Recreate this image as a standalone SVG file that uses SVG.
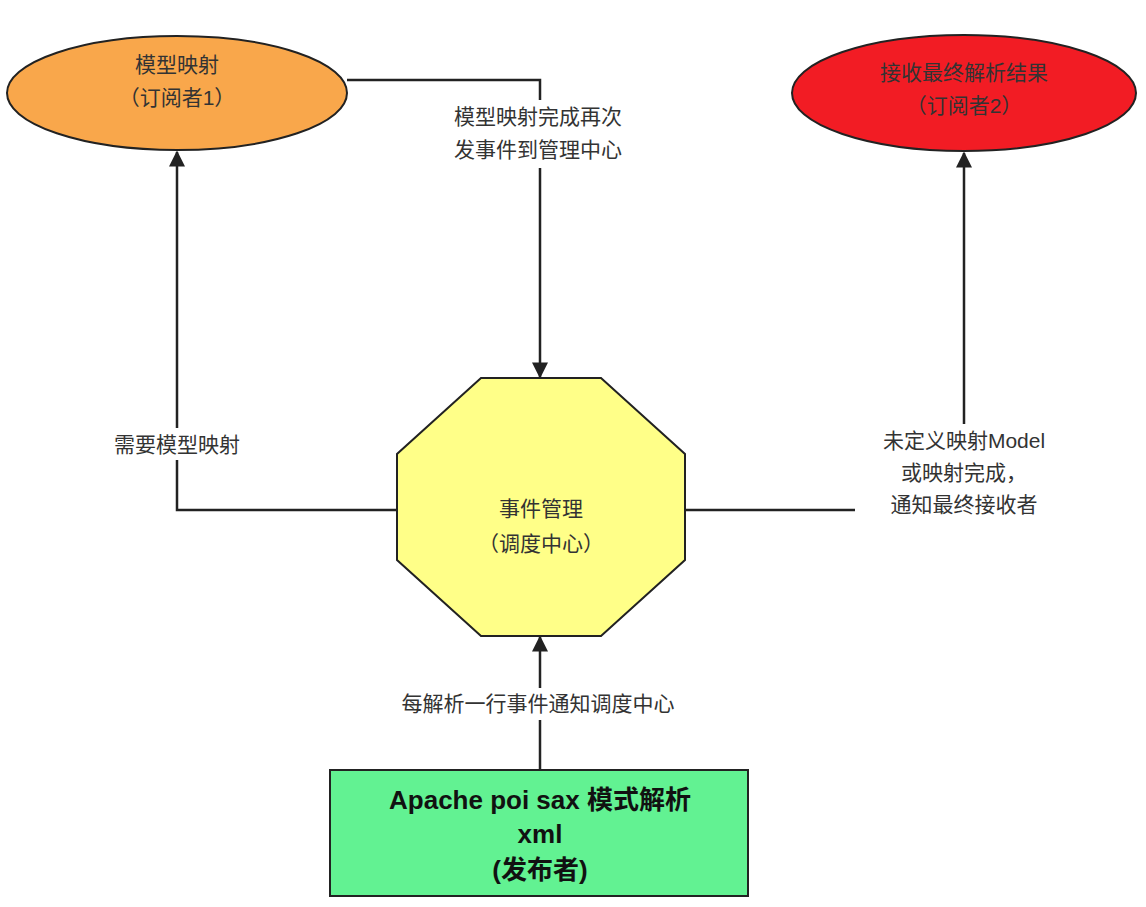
<svg xmlns="http://www.w3.org/2000/svg" width="1146" height="907" viewBox="0 0 1146 907">
<defs>
<marker id="arr" viewBox="0 0 10 10" refX="9" refY="5" markerWidth="20" markerHeight="16" markerUnits="userSpaceOnUse" orient="auto"><path d="M0,0 L10,5 L0,10 z" fill="#222"/></marker>
</defs>
<style>
text{font-family:"Liberation Sans","Noto Sans CJK SC",sans-serif;font-size:21px;fill:#333;text-anchor:middle}
.b{font-weight:bold;font-size:26px;fill:#111}
.c{fill:none;stroke:#222;stroke-width:2.5}
.shape{stroke:#222;stroke-width:2}
.lbl{fill:#fff}
</style>
<rect width="1146" height="907" fill="#fff"/>
<g id="connectors">
<path class="c" d="M397,510 H177 V152" marker-end="url(#arr)"/>
<path class="c" d="M347,80 H540 V377" marker-end="url(#arr)"/>
<path class="c" d="M685,510 H964 V153" marker-end="url(#arr)"/>
<path class="c" d="M540,770 V637" marker-end="url(#arr)"/>
<rect class="lbl" x="90" y="428" width="175" height="32"/>
<text x="177" y="452">需要模型映射</text>
<rect class="lbl" x="425" y="100" width="230" height="68"/>
<text x="538" y="124">模型映射完成再次</text>
<text x="538" y="157">发事件到管理中心</text>
<rect class="lbl" x="855" y="424" width="218" height="98"/>
<text x="964" y="448">未定义映射Model</text>
<text x="964" y="480">或映射完成，</text>
<text x="964" y="512">通知最终接收者</text>
<rect class="lbl" x="362" y="688" width="352" height="32"/>
<text x="538" y="711">每解析一行事件通知调度中心</text>
</g>
<g id="sub1">
<ellipse class="shape" cx="177" cy="93" rx="170" ry="57" fill="#F9A74B"/>
<text x="177" y="72">模型映射</text>
<text x="177" y="105">（订阅者1）</text>
</g>
<g id="sub2">
<ellipse class="shape" cx="964" cy="93" rx="172" ry="58" fill="#F21C24"/>
<text x="964" y="80">接收最终解析结果</text>
<text x="964" y="113">（订阅者2）</text>
</g>
<g id="center">
<polygon class="shape" points="481,378 601,378 685,454 685,560 601,636 481,636 397,560 397,454" fill="#FFFF88"/>
<text x="541" y="516">事件管理</text>
<text x="541" y="551">（调度中心）</text>
</g>
<g id="publisher">
<rect class="shape" x="330" y="770" width="418" height="126" fill="#62F292"/>
<text class="b" x="540" y="809">Apache poi sax 模式解析</text>
<text class="b" x="540" y="843">xml</text>
<text class="b" x="540" y="879">(发布者)</text>
</g>
</svg>
